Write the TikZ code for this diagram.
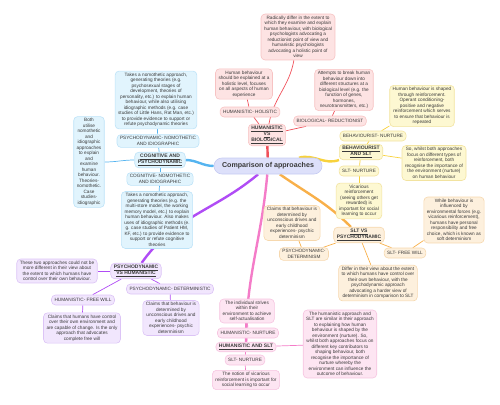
\documentclass[tikz,border=0pt]{standalone}
\usepackage{fontspec}
\setmainfont{Liberation Sans}
\usetikzlibrary{backgrounds}
\definecolor{txt}{HTML}{3A3A3A}
\definecolor{hubF}{HTML}{DDE0FA}
\definecolor{hubD}{HTML}{C6CBF2}
% branch colours: fill, border, line
\definecolor{hbF}{HTML}{FDE3E3}\definecolor{hbD}{HTML}{F7C3C3}\definecolor{hbL}{HTML}{F0505A}
\definecolor{cpF}{HTML}{E1F4FD}\definecolor{cpD}{HTML}{BDE3F8}\definecolor{cpL}{HTML}{55B4F0}
\definecolor{phF}{HTML}{F1E6FD}\definecolor{phD}{HTML}{DCC4F6}\definecolor{phL}{HTML}{B04CF5}
\definecolor{hsF}{HTML}{FDE5F2}\definecolor{hsD}{HTML}{F6C4E0}\definecolor{hsL}{HTML}{F47CC8}
\definecolor{spF}{HTML}{FDF0DD}\definecolor{spD}{HTML}{F6D8AE}\definecolor{spL}{HTML}{F8B04A}
\definecolor{bsF}{HTML}{FDF8D2}\definecolor{bsD}{HTML}{F2E3A0}\definecolor{bsL}{HTML}{F8D23C}

\begin{document}
\begin{tikzpicture}[x=1pt, y=-1pt,
  card/.style={draw=#1D, fill=#1F, line width=0.6pt, rounded corners=4pt, align=center,
               text=txt, inner xsep=3pt, inner ysep=2pt, font=\fontsize{4.7}{5.5}\selectfont},
  tag/.style={card=#1, minimum height=10pt},
  topic/.style={card=#1, font=\fontsize{5}{6}\selectfont\bfseries},
  hub/.style={card=hub, rounded corners=8pt, minimum width=108pt, minimum height=16pt,
              font=\fontsize{7.1}{8}\selectfont\bfseries},
  br/.style={draw=#1L, line width=2.4pt},
  ln/.style={draw=#1L, line width=0.7pt}]
  \useasboundingbox (0,0) rectangle (500,404);

  \node[hub] (hub) at (268,166) {Comparison of approaches};

  % humanistic vs biological
  \node[topic=hb] (hvb) at (267,135) {\underline{HUMANISTIC}\\\underline{VS}\\\underline{BIOLOGICAL}};
  \node[card=hb] (hbtop) at (298,37) {Radically differ in the extent to\\which they examine and explain\\human behaviour, with biological\\psychologists advocating a\\reductionist point of view and\\humanistic psychologists\\advocating a holistic point of\\view};
  \node[tag=hb] (hhol) at (250,112) {HUMANISTIC- HOLISTIC};
  \node[card=hb] (hholtxt) at (244,84) {Human behaviour\\should be explained at a\\holistic level, focuses\\on all aspects of human\\experience};
  \node[tag=hb] (bred) at (330,121) {BIOLOGICAL- REDUCTIONIST};
  \node[card=hb] (bredtxt) at (344,90) {Attempts to break human\\behaviour down into\\different structures at a\\biological level (e.g. the\\function of genes,\\hormones,\\neurotransmitters, etc.)};

  % cognitive and psychodynamic
  \node[topic=cp] (cogpsy) at (160,160) {\underline{COGNITIVE AND}\\\underline{PSYCHODYNAMIC}};
  \node[tag=cp] (pnom) at (158,141) {PSYCHODYNAMIC- NOMOTHETIC\\AND IDIOGRAPHIC};
  \node[card=cp] (pnomtxt) at (156,100) {Takes a nomothetic approach,\\generating theories (e.g.\\psychosexual stages of\\development, theories of\\personality, etc.) to explain human\\behaviour, while also utilising\\idiographic methods (e.g. case\\studies of Little Hans, Rat Man, etc.)\\to provide evidence to support or\\refute psychodynamic theories};
  \node[tag=cp] (cnom) at (160,179) {COGNITIVE- NOMOTHETIC\\AND IDIOGRAPHIC};
  \node[card=cp] (cnomtxt) at (157,220) {Takes a nomothetic approach,\\generating theories (e.g. the\\multi-store model, the working\\memory model, etc.) to explain\\human behaviour. Also makes\\uses of idiographic methods (e.\\g. case studies of Patient HM,\\KF, etc.) to provide evidence to\\support or refute cognitive\\theories};
  \node[card=cp] (cpboth) at (89,162) {Both\\utilise\\nomothetic\\and\\idiographic\\approaches\\to explain\\and\\examine\\human\\behaviour.\\Theories-\\nomothetic.\\Case\\studies-\\idiographic};

  % psychodynamic vs humanistic
  \node[topic=ph] (psyhum) at (136,271) {\underline{PSYCHODYNAMIC}\\\underline{VS HUMANISTIC}};
  \node[card=ph] (phleft) at (57,271) {These two approaches could not be\\more different in their view about\\the extent to which humans have\\control over their own behaviour.};
  \node[tag=ph] (hfw) at (83,300) {HUMANISTIC- FREE WILL};
  \node[card=ph] (hfwtxt) at (82,328) {Claims that humans have control\\over their own environment and\\are capable of change. Is the only\\approach that advocates\\complete free will};
  \node[tag=ph] (pdet) at (170,289) {PSYCHODYNAMIC- DETERMINISTIC};
  \node[card=ph] (pdettxt) at (171,318) {Claims that behaviour is\\determined by\\unconscious drives and\\early childhood\\experiences- psychic\\determinism};

  % humanistic and slt
  \node[topic=hs] (humslt) at (246,347) {\underline{HUMANISTIC AND SLT}};
  \node[card=hs] (strive) at (247,311) {The individual strives\\within their\\environment to achieve\\self-actualisation};
  \node[tag=hs] (hnur) at (248,333) {HUMANISTIC- NURTURE};
  \node[tag=hs] (snur2) at (245,360) {SLT- NURTURE};
  \node[card=hs] (vicar2) at (246,380) {The notion of vicarious\\reinforcement is important for\\social learning to occur};
  \node[card=hs] (hsright) at (340,344) {The humanistic approach and\\SLT are similar in their approach\\to explaining how human\\behaviour is shaped by the\\environment (nurture). So,\\whilst both approaches focus on\\different key contributors to\\shaping behaviour, both\\recognise the importance of\\nurture whereby the\\environment can influence the\\outcome of behaviour.};

  % slt vs psychodynamic
  \node[topic=sp] (sltpsy) at (359,235) {\underline{SLT VS}\\\underline{PSYCHODYNAMIC}};
  \node[card=sp] (spclaim) at (292,223) {Claims that behaviour is\\determined by\\unconscious drives and\\early childhood\\experiences- psychic\\determinism};
  \node[tag=sp] (pdetm) at (304,254) {PSYCHODYNAMIC-\\DETERMINISM};
  \node[tag=sp] (sfw) at (405,253) {SLT- FREE WILL};
  \node[card=sp] (softdet) at (454,220) {While behaviour is\\influenced by\\environmental forces (e.g.\\vicarious reinforcement),\\humans have personal\\responsibility and free\\choice, which is known as\\soft determinism};
  \node[card=sp] (differ) at (378,283) {Differ in their view about the extent\\to which humans have control over\\their own behaviour, with the\\psychodynamic approach\\advocating a harder view of\\determinism in comparison to SLT};

  % behaviourist and slt
  \node[topic=bs] (behslt) at (361,152) {\underline{BEHAVIOURIST}\\\underline{AND SLT}};
  \node[tag=bs] (bnur) at (373,136) {BEHAVIOURIST- NURTURE};
  \node[card=bs] (bnurtxt) at (422,106) {Human behaviour is shaped\\through reinforcement.\\Operant conditioning-\\positive and negative\\reinforcement which serves\\to ensure that behaviour is\\repeated};
  \node[tag=bs] (snur) at (359,171) {SLT- NURTURE};
  \node[card=bs] (vicar) at (359,201) {Vicarious\\reinforcement\\(seeing others get\\rewarded) is\\important for social\\learning to occur};
  \node[card=bs] (bsright) at (434,163) {So, whilst both approaches\\focus on different types of\\reinforcement, both\\recognise the importance of\\the environment (nurture)\\on human behaviour};

  \begin{pgfonlayer}{background}
    % main branches
    \draw[br=hb] (hub) -- (hvb);
    \draw[br=cp] (hub) to[out=180, in=0] (cogpsy);
    \draw[br=bs] (hub) to[out=15, in=200] (behslt);
    \draw[br=sp] (hub) to[out=-35, in=135] (sltpsy);
    \draw[br=ph] (hub) to[out=-140, in=55] (psyhum);
    \draw[br=hs] (hub) to[out=-95, in=90] (humslt);
    % sub branches
    \draw[ln=hb] (hvb) to[out=80, in=-100] (hbtop);
    \draw[ln=hb] (hvb) -- (hhol);
    \draw[ln=hb] (hhol) -- (hholtxt);
    \draw[ln=hb] (hvb) -- (bred);
    \draw[ln=hb] (bred) -- (bredtxt);
    \draw[ln=cp] (cogpsy) -- (pnom);
    \draw[ln=cp] (pnom) -- (pnomtxt);
    \draw[ln=cp] (cogpsy) -- (cnom);
    \draw[ln=cp] (cnom) -- (cnomtxt);
    \draw[ln=cp] (cogpsy) to[out=180, in=0] (cpboth);
    \draw[ln=ph] (psyhum) -- (phleft);
    \draw[ln=ph] (psyhum) -- (hfw);
    \draw[ln=ph] (hfw) -- (hfwtxt);
    \draw[ln=ph] (psyhum) -- (pdet);
    \draw[ln=ph] (pdet) -- (pdettxt);
    \draw[ln=hs] (humslt) -- (hnur);
    \draw[ln=hs] (hnur) -- (strive);
    \draw[ln=hs] (humslt) -- (snur2);
    \draw[ln=hs] (snur2) -- (vicar2);
    \draw[ln=hs] (humslt) -- (hsright);
    \draw[ln=sp] (sltpsy) -- (pdetm);
    \draw[ln=sp] (pdetm) -- (spclaim);
    \draw[ln=sp] (sltpsy) -- (sfw);
    \draw[ln=sp] (sfw) -- (softdet);
    \draw[ln=sp] (sltpsy) -- (differ);
    \draw[ln=bs] (behslt) -- (bnur);
    \draw[ln=bs] (bnur) -- (bnurtxt);
    \draw[ln=bs] (behslt) -- (snur);
    \draw[ln=bs] (snur) -- (vicar);
    \draw[ln=bs] (behslt) -- (bsright);
  \end{pgfonlayer}
\end{tikzpicture}
\end{document}
